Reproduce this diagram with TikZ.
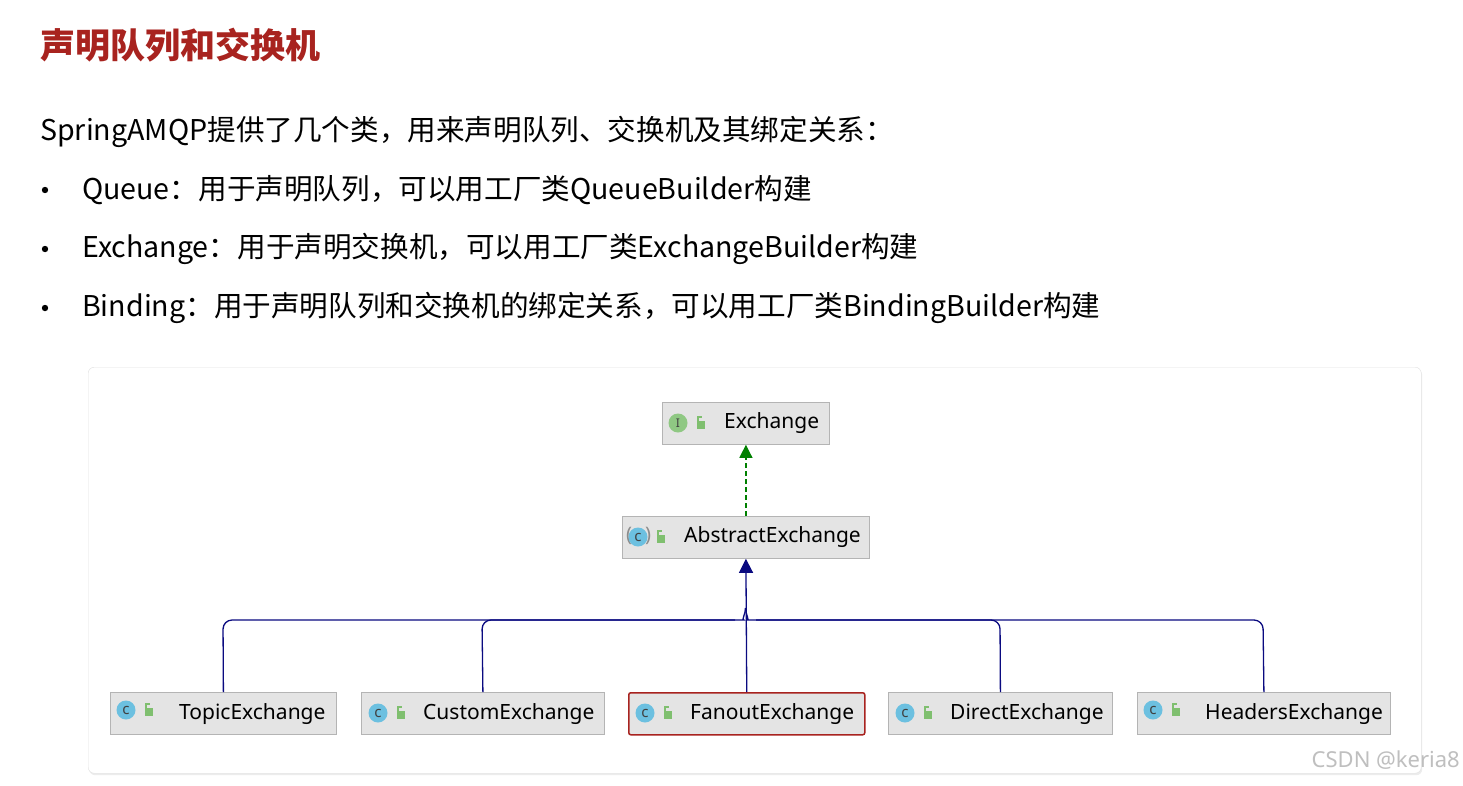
\documentclass[tikz,border=0pt]{standalone}
\usepackage{fontspec}
\setmainfont{Noto Sans}
\newfontfamily\cjk{Noto Sans CJK SC}
\usetikzlibrary{arrows.meta,shadows}
\definecolor{boxfill}{HTML}{E4E4E4}
\definecolor{boxline}{HTML}{B4B4B4}
\definecolor{titlered}{HTML}{A8231F}
\definecolor{navyline}{HTML}{0A0A80}
\definecolor{cicon}{HTML}{6CC0E0}
\definecolor{iicon}{HTML}{8FC883}
\definecolor{lockg}{HTML}{7FBF6F}
\tikzset{
  cls/.style={draw=boxline,fill=boxfill,minimum height=42pt,inner sep=0pt,line width=0.8pt},
  lbl/.style={font=\fontsize{21}{24}\selectfont,anchor=west,inner sep=0pt},
  body/.style={font=\cjk\fontsize{28.6}{32}\selectfont,anchor=west,inner sep=0pt},
  inh/.style={navyline,line width=1.3pt,rounded corners=9pt},
}
\newcommand{\clsicon}[3]{% x y color
  \fill[#3] (#1,#2) circle (9.5pt);
  \node[font=\fontsize{15}{15}\selectfont\bfseries,text=black!75] at (#1,#2) {c};
  \fill[lockg] (#1+19,#2-2) rectangle (#1+27,#2+6);
  \draw[lockg,line width=1.2pt] (#1+20,#2-2) -- (#1+20,#2-6) -- (#1+24,#2-6);
}
\begin{document}
\begin{tikzpicture}[x=1pt,y=-1pt]
\useasboundingbox[fill=white] (0,0) rectangle (1463,785);
\node[font=\cjk\bfseries\fontsize{35}{38}\selectfont,text=titlered,anchor=west,inner sep=0pt] (title) at (40,45) {声明队列和交换机};
\node[body] (intro) at (40,132) {SpringAMQP提供了几个类，用来声明队列、交换机及其绑定关系：};
\node[body] (b1) at (82,190) {Queue：用于声明队列，可以用工厂类QueueBuilder构建};
\node[body] (b2) at (82,249) {Exchange：用于声明交换机，可以用工厂类ExchangeBuilder构建};
\node[body] (b3) at (82,308) {Binding：用于声明队列和交换机的绑定关系，可以用工厂类BindingBuilder构建};
\foreach \y in {190,249,308} \fill (45,\y) circle (3.2pt);
\node[draw=black!12,fill=white,rounded corners=6pt,minimum width=1333pt,minimum height=406pt,drop shadow={opacity=0.15,shadow xshift=1pt,shadow yshift=-2pt},anchor=north west] (panel) at (88,367) {};
% boxes
\node[cls,minimum width=167pt,anchor=north west] (ex) at (662,402) {};
\node[cls,minimum width=247pt,anchor=north west] (abs) at (622,516) {};
\node[cls,minimum width=226pt,anchor=north west] (topic) at (110,692) {};
\node[cls,minimum width=243pt,anchor=north west] (custom) at (361,692) {};
\node[cls,draw=titlered,line width=1.5pt,rounded corners=2pt,minimum width=236pt,anchor=north west] (fan) at (628,692) {};
\node[cls,minimum width=224pt,anchor=north west] (direct) at (888,692) {};
\node[cls,minimum width=253pt,anchor=north west] (head) at (1137,692) {};
% icons
\fill[iicon] (678,423) circle (9.5pt);
\node[font=\fontsize{12}{12}\selectfont\bfseries,text=black!75] (iI) at (678,423) {I};
\fill[lockg] (697,421) rectangle (705,429);
\draw[lockg,line width=1.2pt] (698,421) -- (698,417) -- (702,417);
\node[lbl] (exl) at (724,423) {Exchange};
\node[font=\fontsize{20}{20}\selectfont,text=black!45] (lp) at (629,536) {(};
\node[font=\fontsize{20}{20}\selectfont,text=black!45] (rp) at (648,536) {)};
\clsicon{638}{537}{cicon}
\node[lbl] (absl) at (684,537) {AbstractExchange};
\clsicon{126}{710}{cicon}
\node[lbl] (tl) at (179,714) {TopicExchange};
\clsicon{378}{713}{cicon}
\node[lbl] (cl) at (423,714) {CustomExchange};
\clsicon{645}{713}{cicon}
\node[lbl] (fl) at (690,714) {FanoutExchange};
\clsicon{905}{713}{cicon}
\node[lbl] (dl) at (950,714) {DirectExchange};
\clsicon{1153}{710}{cicon}
\node[lbl] (hl) at (1205,714) {HeadersExchange};
% connectors
\draw[green!50!black,line width=1.2pt,dash pattern=on 5pt off 3pt,-{Triangle[width=13pt,length=13pt]}] (abs.north) -- (ex.south);
\draw[inh] (topic.north) -- (223,620) -- (735,620) to[out=0,in=-90] (745.5,608);
\draw[inh] (custom.north) -- (482,620) -- (735,620);
\draw[inh] (head.north) -- (1263,620) -- (756,620) to[out=180,in=-90] (745.5,608);
\draw[inh] (direct.north) -- (1000,620) -- (756,620);
\draw[navyline,line width=1.3pt,-{Triangle[width=14pt,length=14pt]}] (fan.north) -- (abs.south);
\node[font=\fontsize{22}{24}\selectfont,text=black!25,anchor=east,inner sep=0pt] (wm) at (1460,760) {CSDN @keria8};
\end{tikzpicture}
\end{document}
